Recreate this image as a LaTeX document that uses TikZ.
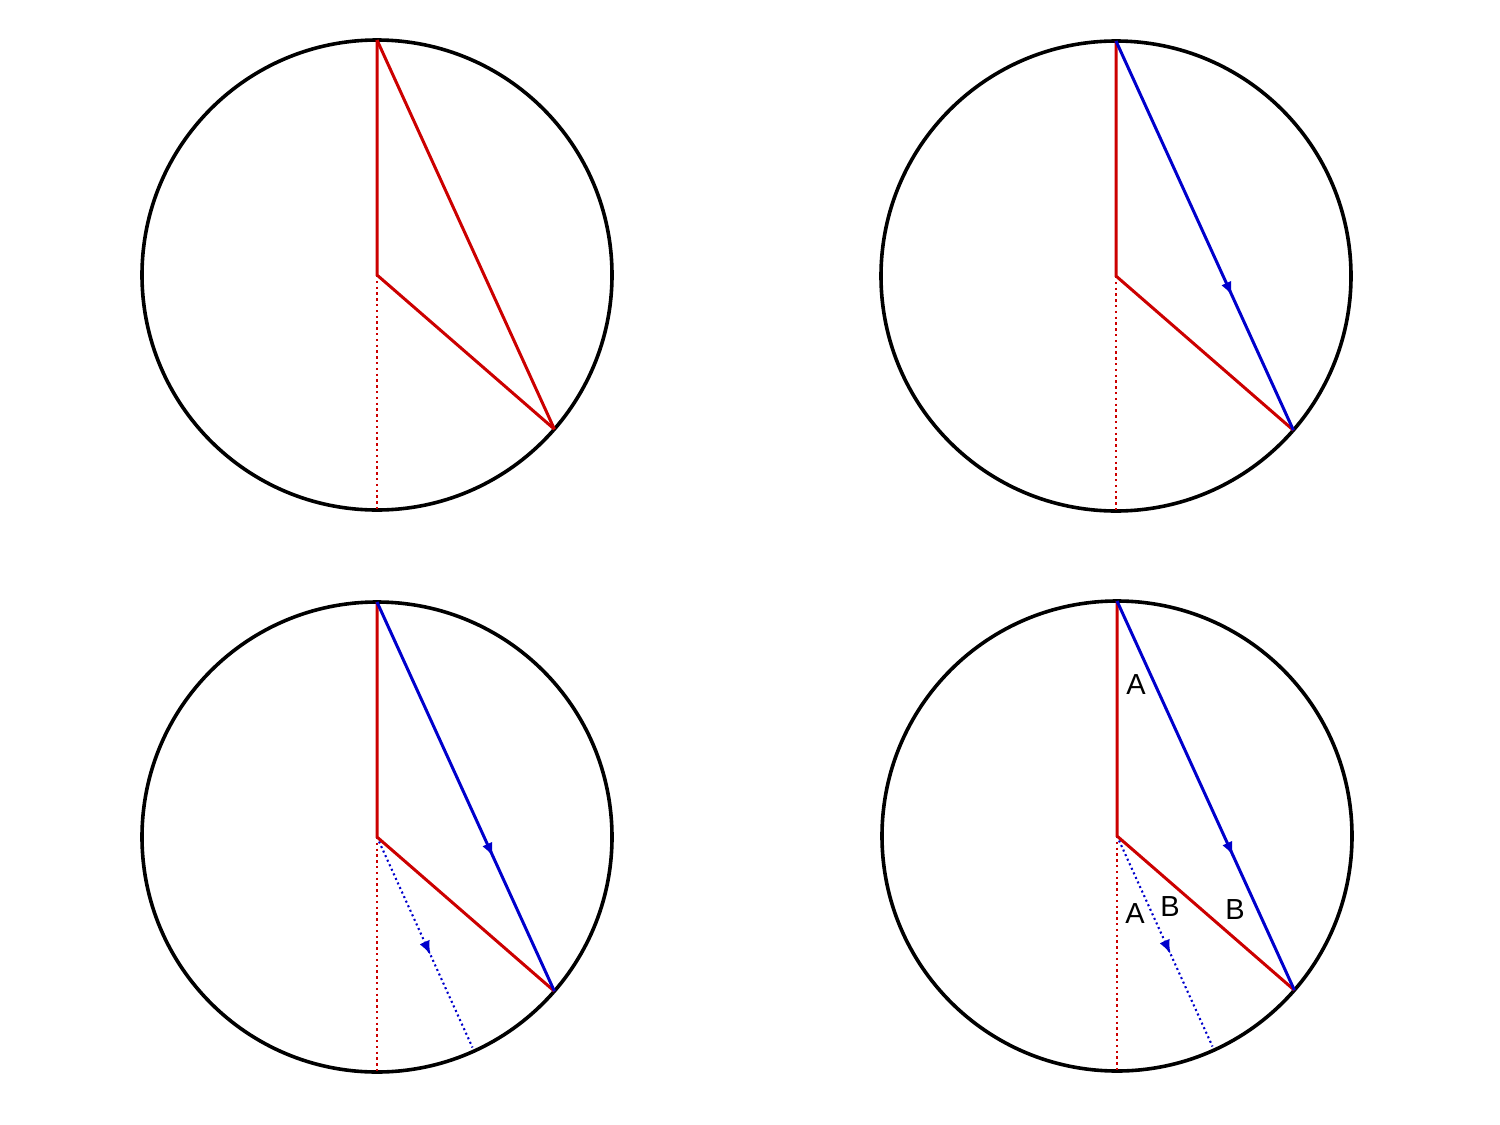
\documentclass[tikz,border=0pt]{standalone}
\usepackage{fontspec}
\setmainfont{Liberation Sans}
\usetikzlibrary{arrows.meta,decorations.markings}
\definecolor{cred}{HTML}{CC0000}
\definecolor{cblue}{HTML}{0000CC}
\tikzset{
  rim/.style={draw=black,line width=3.6pt},
  redline/.style={draw=cred,line width=3pt},
  reddot/.style={draw=cred,line width=2.6pt,dash pattern=on 2.4pt off 3.4pt},
  blueline/.style={draw=cblue,line width=3pt,
    postaction={decorate},
    decoration={markings,mark=at position 0.655 with {\arrow{Latex[length=14pt,width=11pt]}}}},
  bluedot/.style={draw=cblue,line width=2.1pt,dash pattern=on 2pt off 3pt,
    postaction={decorate},
    decoration={markings,mark=at position 0.56 with {\arrow[solid]{Latex[length=14pt,width=11pt]}}}},
  lbl/.style={font=\fontsize{29}{33}\selectfont,inner sep=0pt}
}
\begin{document}
\begin{tikzpicture}[x=1pt,y=-1pt]
\useasboundingbox (0,0) rectangle (1500,1125);
% ---- panel 1
\begin{scope}[shift={(377,275)}]
\coordinate (c1) at (0,0);
\coordinate (t1) at (0,-235);
\coordinate (b1) at (0,235);
\coordinate (p1) at (177.4,154.2);
\draw[rim] (c1) circle[radius=235];
\draw[reddot] (c1) -- (b1);
\draw[redline] (t1) -- (c1) -- (p1);
\draw[redline] (t1) -- (p1);
\end{scope}
% ---- panel 2
\begin{scope}[shift={(1116,276)}]
\coordinate (c2) at (0,0);
\coordinate (t2) at (0,-235);
\coordinate (b2) at (0,235);
\coordinate (p2) at (177.4,154.2);
\draw[rim] (c2) circle[radius=235];
\draw[reddot] (c2) -- (b2);
\draw[redline] (t2) -- (c2) -- (p2);
\draw[blueline] (t2) -- (p2);
\end{scope}
% ---- panel 3
\begin{scope}[shift={(377,837)}]
\coordinate (c3) at (0,0);
\coordinate (t3) at (0,-235);
\coordinate (b3) at (0,235);
\coordinate (p3) at (177.4,154.2);
\coordinate (q3) at (95.5,210.5);
\draw[rim] (c3) circle[radius=235];
\draw[reddot] (c3) -- (b3);
\draw[bluedot] (c3) -- (q3);
\draw[redline] (t3) -- (c3) -- (p3);
\draw[blueline] (t3) -- (p3);
\end{scope}
% ---- panel 4
\begin{scope}[shift={(1117,836)}]
\coordinate (c4) at (0,0);
\coordinate (t4) at (0,-235);
\coordinate (b4) at (0,235);
\coordinate (p4) at (177.4,154.2);
\coordinate (q4) at (95.5,210.5);
\draw[rim] (c4) circle[radius=235];
\draw[reddot] (c4) -- (b4);
\draw[bluedot] (c4) -- (q4);
\draw[redline] (t4) -- (c4) -- (p4);
\draw[blueline] (t4) -- (p4);
\node[lbl] (a1) at (19,-151) {A};
\node[lbl] (a2) at (18,78) {A};
\node[lbl] (b1l) at (53,71) {B};
\node[lbl] (b2l) at (118,74) {B};
\end{scope}
\end{tikzpicture}
\end{document}
